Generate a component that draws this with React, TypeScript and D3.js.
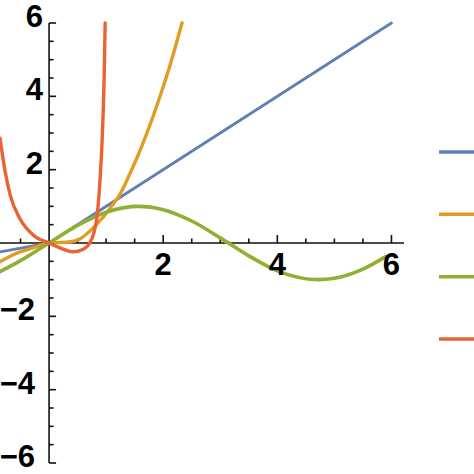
import React from "react";
import * as d3 from "d3";

// values
const blueX = [-0.86, 0, 6];
const blueY = [-0.24, 0, 6];

const orangeX = [-0.86, -0.57, -0.28, 0, 0.3, 0.5, 0.84, 1.07, 1.25, 1.39, 1.55, 1.71, 1.89, 2.12, 2.33];
const orangeY = [-0.51, -0.28, -0.13, 0, 0.02, 0.08, 0.52, 0.95, 1.35, 1.8, 2.36, 2.98, 3.75, 4.85, 6];

const greenX = [-0.86, -0.5, 0, 0.5, 1, 1.57, 2, 2.5, 3, 3.5, 4, 4.71, 5, 5.5, 5.9];
const greenY = [-0.78, -0.48, 0, 0.48, 0.84, 1.0, 0.91, 0.6, 0.14, -0.35, -0.76, -1.0, -0.96, -0.71, -0.37];

const redX = [-0.86, -0.77, -0.68, -0.51, -0.28, 0, 0.2, 0.42, 0.6, 0.7, 0.78, 0.84, 0.9, 0.94, 0.965, 0.983];
const redY = [2.86, 1.95, 1.3, 0.66, 0.22, 0, -0.14, -0.24, -0.17, -0.03, 0.25, 0.72, 1.9, 3.2, 4.5, 6];

const series = [
  { name: "blue", color: "#5E81B5", xs: blueX, ys: blueY, width: 2.8, straight: true },
  { name: "orange", color: "#E19C24", xs: orangeX, ys: orangeY, width: 3.4, straight: false },
  { name: "green", color: "#8FB032", xs: greenX, ys: greenY, width: 3.6, straight: false },
  { name: "red", color: "#EB6235", xs: redX, ys: redY, width: 3.4, straight: false },
];

const xLabels = [2, 4, 6];
const yLabels = [-6, -4, -2, 2, 4, 6];

const W = 474;
const H = 474;

export default function App() {
  const x = d3.scaleLinear().domain([-0.86, 6.22]).range([0, 404]);
  const y = d3.scaleLinear().domain([6, -6]).range([23, 463]);

  const minorX = d3.range(-0.5, 6.01, 0.5).filter((v) => v !== 0);
  const minorY = d3.range(-6, 6.01, 0.5).filter((v) => v !== 0);

  const smooth = d3
    .line<[number, number]>()
    .x((d) => x(d[0]))
    .y((d) => y(d[1]))
    .curve(d3.curveMonotoneX);
  const straight = d3
    .line<[number, number]>()
    .x((d) => x(d[0]))
    .y((d) => y(d[1]));

  const legendY = d3.scalePoint<string>().domain(series.map((s) => s.name)).range([152, 339]);

  const font = "'Liberation Sans', Arial, sans-serif";

  return (
    <svg width={W} height={H} style={{ position: "absolute", left: 0, top: 0, background: "#fff" }}>
      {/* axes */}
      <g stroke="#111" strokeWidth={1.6}>
        <line x1={x(-0.86)} x2={x(6.22)} y1={y(0)} y2={y(0)} />
        <line x1={x(0)} x2={x(0)} y1={y(6)} y2={y(-6)} />
        {minorX.map((v) => {
          const major = xLabels.includes(v);
          return <line key={"tx" + v} x1={x(v)} x2={x(v)} y1={y(0)} y2={y(0) - (major ? 8 : 4.5)} />;
        })}
        {minorY.map((v) => {
          const major = yLabels.includes(v);
          return <line key={"ty" + v} x1={x(0)} x2={x(0) + (major ? 7 : 4.5)} y1={y(v)} y2={y(v)} />;
        })}
      </g>

      {/* curves */}
      <g fill="none" strokeLinecap="round" strokeLinejoin="round">
        {series.map((s) => {
          const pts = s.xs.map((v, i) => [v, s.ys[i]] as [number, number]);
          return (
            <path
              key={s.name}
              d={(s.straight ? straight(pts) : smooth(pts)) || ""}
              stroke={s.color}
              strokeWidth={s.width}
            />
          );
        })}
      </g>

      {/* tick labels */}
      <g fontFamily={font} fontWeight="bold" fontSize={31} fill="#000">
        {xLabels.map((v) => (
          <text key={"lx" + v} x={x(v)} y={y(0) + 32} textAnchor="middle">
            {v}
          </text>
        ))}
        {yLabels.map((v) => (
          <text key={"ly" + v} x={v < 0 ? x(0) - 14 : x(0) - 6} y={y(v) + 4} textAnchor="end">
            {v < 0 ? "\u2212" + Math.abs(v) : v}
          </text>
        ))}
      </g>

      {/* legend swatches */}
      <g strokeWidth={3.5}>
        {series.map((s) => (
          <line key={"lg" + s.name} x1={439} x2={480} y1={legendY(s.name)} y2={legendY(s.name)} stroke={s.color} />
        ))}
      </g>
    </svg>
  );
}
